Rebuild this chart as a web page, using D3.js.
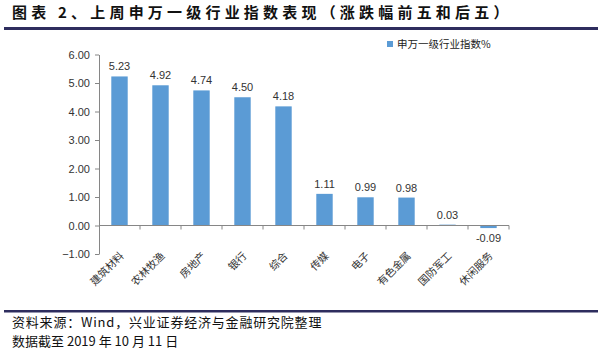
<!DOCTYPE html>
<html lang="zh">
<head>
<meta charset="UTF-8" />
<title>上周申万一级行业指数表现</title>
<script src="https://d3js.org/d3.v7.min.js"></script>
<style>
    body { margin: 0; background: #fff; }
    svg { display: block; font-family: "Liberation Sans", Arial, sans-serif; }
    .cjk { font-family: "Noto Sans CJK SC", sans-serif; }
    .axis path, .axis line { stroke: #868686; }
    .axis text { fill: #333; font-size: 11px; }
</style>
</head>
<body>
<svg id="chart"></svg>
<script>
    // data
    const categories = ["建筑材料", "农林牧渔", "房地产", "银行", "综合", "传媒", "电子", "有色金属", "国防军工", "休闲服务"];
    const values = [5.23, 4.92, 4.74, 4.50, 4.18, 1.11, 0.99, 0.98, 0.03, -0.09];
    const yTicks = [-1, 0, 1, 2, 3, 4, 5, 6];
    const seriesName = "申万一级行业指数%";

    const W = 598, H = 351;
    const svg = d3.select("#chart").attr("width", W).attr("height", H);

    // title + rules
    svg.append("text").attr("class", "cjk")
        .attr("x", 12).attr("y", 18)
        .style("font-size", "15px").style("font-weight", "bold").style("letter-spacing", "4.2px")
        .attr("fill", "#111")
        .text("图表 2、上周申万一级行业指数表现（涨跌幅前五和后五）");
    svg.append("rect").attr("x", 4).attr("y", 27).attr("width", 594).attr("height", 3).attr("fill", "#2e2d5e");
    svg.append("rect").attr("x", 4).attr("y", 310).attr("width", 594).attr("height", 2.5).attr("fill", "#2e2d5e");

    // scales
    const x = d3.scaleBand().domain(categories).range([99, 509]).paddingInner(0.6).paddingOuter(0.3);
    const y = d3.scaleLinear().domain([-1, 6]).range([254, 54.5]);

    // y axis
    svg.append("g").attr("class", "axis")
        .attr("transform", "translate(99,0)")
        .call(d3.axisLeft(y).tickValues(yTicks).tickFormat(d3.format(".2f")).tickSize(4).tickSizeOuter(0))
        .call(g => g.selectAll("text").attr("x", -9));

    // bars
    svg.selectAll(".bar").data(values).enter().append("rect")
        .attr("class", "bar")
        .attr("x", (d, i) => x(categories[i]))
        .attr("width", x.bandwidth())
        .attr("y", d => y(Math.max(d, 0)))
        .attr("height", d => Math.abs(y(d) - y(0)))
        .attr("fill", "#5b9bd5");

    // x axis at zero with ticks between categories
    const xAxisG = svg.append("g").attr("class", "axis");
    xAxisG.append("line").attr("x1", 99).attr("x2", 509).attr("y1", y(0)).attr("y2", y(0));
    const step = x.step();
    d3.range(1, categories.length + 1).forEach(i => {
        const tx = x(categories[i - 1]) + x.bandwidth() / 2 + step / 2;
        xAxisG.append("line").attr("x1", tx).attr("x2", tx).attr("y1", y(0)).attr("y2", y(0) + 4);
    });

    // value labels
    svg.selectAll(".val").data(values).enter().append("text")
        .attr("x", (d, i) => x(categories[i]) + x.bandwidth() / 2)
        .attr("y", d => d >= 0 ? y(d) - 6 : y(d) + 14)
        .attr("text-anchor", "middle")
        .style("font-size", "11px").attr("fill", "#333")
        .text(d => d.toFixed(2));

    // category labels rotated
    svg.selectAll(".cat").data(categories).enter().append("text")
        .attr("class", "cjk")
        .attr("transform", d => `translate(${x(d) + x.bandwidth() / 2 + 5},${y(0) + 31}) rotate(-45)`)
        .attr("text-anchor", "end")
        .style("font-size", "10.5px").attr("fill", "#333")
        .text(d => d);

    // legend
    svg.append("rect").attr("x", 387).attr("y", 41).attr("width", 6).attr("height", 6).attr("fill", "#5b9bd5");
    svg.append("text").attr("class", "cjk")
        .attr("x", 397).attr("y", 48)
        .style("font-size", "10.5px").attr("fill", "#222")
        .text(seriesName);

    // footer
    svg.append("text").attr("class", "cjk")
        .attr("x", 12).attr("y", 327)
        .style("font-size", "13px").style("letter-spacing", "0.8px").attr("fill", "#111")
        .text("资料来源：Wind，兴业证券经济与金融研究院整理");
    svg.append("text").attr("class", "cjk")
        .attr("x", 12).attr("y", 346)
        .style("font-size", "13px").attr("fill", "#111")
        .text("数据截至 2019 年 10 月 11 日");
</script>
</body>
</html>
